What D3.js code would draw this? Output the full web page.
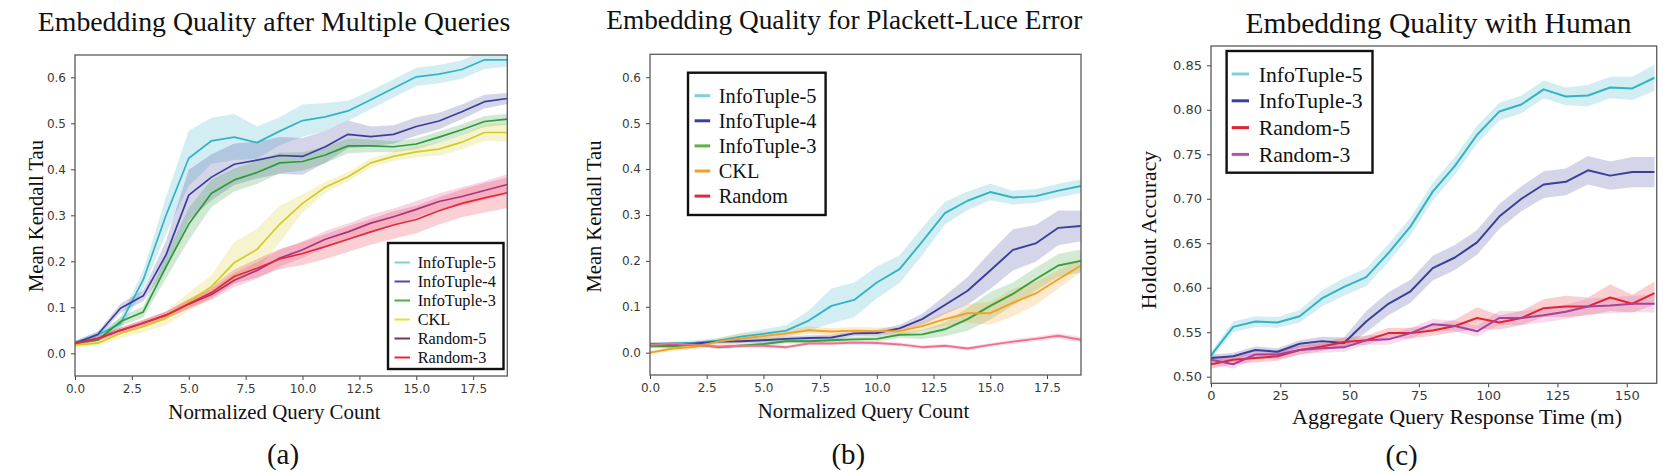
<!DOCTYPE html>
<html><head><meta charset="utf-8">
<script src="https://cdn.jsdelivr.net/npm/d3@7"></script>
<style>body{margin:0;background:#fff} svg{display:block}</style>
</head><body>
<svg id="chart" width="1676" height="473"></svg>
<script>
// ---------- data ----------
const queryCount = [0,1,2,3,4,5,6,7,8,9,10,11,12,13,14,15,16,17,18,19];
const responseTime = [0,8,16,24,32,40,48,56,64,72,80,88,96,104,112,120,128,136,144,152,160];

// panel (a) Embedding Quality after Multiple Queries
const aInfo5 = [0.023,0.040,0.065,0.160,0.300,0.424,0.462,0.470,0.458,0.483,0.506,0.514,0.527,0.551,0.576,0.601,0.607,0.617,0.638,0.638];
const aInfo5Err = [0.005,0.008,0.012,0.02,0.04,0.06,0.05,0.05,0.035,0.03,0.035,0.03,0.022,0.02,0.02,0.02,0.02,0.02,0.02,0.015];
const aInfo4 = [0.022,0.041,0.098,0.125,0.214,0.344,0.383,0.411,0.420,0.430,0.428,0.449,0.476,0.471,0.476,0.493,0.505,0.525,0.547,0.554];
const aInfo4Err = [0.004,0.006,0.01,0.012,0.03,0.055,0.05,0.045,0.04,0.04,0.04,0.035,0.03,0.022,0.02,0.02,0.018,0.016,0.015,0.012];
const aInfo3 = [0.022,0.029,0.069,0.090,0.188,0.281,0.348,0.377,0.393,0.414,0.417,0.431,0.451,0.451,0.449,0.455,0.470,0.486,0.504,0.509];
const aInfo3Err = [0.004,0.006,0.01,0.012,0.025,0.035,0.03,0.025,0.025,0.022,0.02,0.018,0.016,0.014,0.012,0.012,0.012,0.012,0.012,0.012];
const aCkl = [0.018,0.022,0.043,0.058,0.076,0.112,0.145,0.197,0.226,0.281,0.326,0.361,0.384,0.414,0.428,0.438,0.444,0.459,0.480,0.480];
const aCklErr = [0.005,0.006,0.01,0.012,0.015,0.02,0.025,0.045,0.045,0.04,0.02,0.012,0.01,0.01,0.01,0.012,0.014,0.016,0.018,0.02];
const aRand5 = [0.022,0.032,0.050,0.066,0.083,0.107,0.128,0.159,0.180,0.207,0.225,0.248,0.264,0.283,0.297,0.313,0.330,0.341,0.354,0.367];
const aRand5Err = [0.004,0.005,0.006,0.007,0.008,0.01,0.012,0.015,0.018,0.018,0.018,0.018,0.018,0.018,0.018,0.018,0.018,0.02,0.02,0.022];
const aRand3 = [0.022,0.032,0.050,0.066,0.083,0.108,0.132,0.167,0.185,0.205,0.217,0.232,0.248,0.264,0.279,0.291,0.310,0.326,0.338,0.349];
const aRand3Err = [0.004,0.005,0.006,0.007,0.008,0.01,0.012,0.015,0.02,0.022,0.025,0.027,0.028,0.028,0.03,0.03,0.03,0.03,0.032,0.033];

// panel (b) Embedding Quality for Plackett-Luce Error
const bInfo5 = [0.019,0.020,0.022,0.026,0.035,0.041,0.048,0.070,0.102,0.115,0.153,0.182,0.242,0.304,0.331,0.350,0.338,0.341,0.353,0.363];
const bInfo5Err = [0.004,0.004,0.005,0.006,0.008,0.01,0.012,0.022,0.038,0.038,0.035,0.03,0.03,0.025,0.02,0.018,0.015,0.015,0.015,0.015];
const bInfo4 = [0.018,0.017,0.020,0.024,0.025,0.027,0.030,0.032,0.033,0.042,0.043,0.053,0.073,0.104,0.135,0.179,0.224,0.238,0.272,0.276];
const bInfo4Err = [0.004,0.004,0.004,0.004,0.005,0.005,0.005,0.006,0.006,0.006,0.007,0.008,0.012,0.02,0.03,0.04,0.045,0.04,0.038,0.033];
const bInfo3 = [0.014,0.014,0.018,0.012,0.015,0.019,0.025,0.025,0.027,0.029,0.030,0.039,0.040,0.051,0.073,0.102,0.128,0.160,0.190,0.200];
const bInfo3Err = [0.004,0.004,0.004,0.004,0.004,0.005,0.005,0.005,0.005,0.005,0.006,0.007,0.01,0.015,0.025,0.03,0.025,0.025,0.025,0.025];
const bCkl = [0.000,0.009,0.013,0.024,0.031,0.036,0.042,0.049,0.046,0.048,0.047,0.047,0.058,0.073,0.086,0.086,0.109,0.129,0.160,0.190];
const bCklErr = [0.004,0.005,0.006,0.008,0.01,0.01,0.008,0.008,0.008,0.008,0.008,0.008,0.01,0.015,0.02,0.025,0.03,0.025,0.02,0.015];
const bRand = [0.017,0.020,0.017,0.013,0.015,0.015,0.012,0.020,0.020,0.022,0.021,0.018,0.012,0.015,0.009,0.017,0.024,0.030,0.037,0.028];
const bRandErr = [0.004,0.004,0.004,0.004,0.004,0.004,0.004,0.004,0.004,0.004,0.004,0.004,0.004,0.004,0.004,0.004,0.005,0.005,0.006,0.006];

// panel (c) Embedding Quality with Human
const cInfo5 = [0.524,0.556,0.562,0.561,0.568,0.588,0.601,0.612,0.639,0.669,0.708,0.737,0.772,0.798,0.806,0.823,0.815,0.816,0.825,0.824,0.836];
const cInfo5Err = [0.004,0.006,0.006,0.006,0.007,0.009,0.01,0.01,0.01,0.01,0.01,0.01,0.01,0.01,0.01,0.01,0.01,0.012,0.012,0.013,0.015];
const cInfo3 = [0.521,0.523,0.530,0.528,0.537,0.540,0.538,0.562,0.582,0.596,0.622,0.634,0.651,0.680,0.700,0.716,0.719,0.732,0.726,0.730,0.730];
const cInfo3Err = [0.004,0.004,0.004,0.004,0.004,0.005,0.006,0.012,0.013,0.013,0.014,0.014,0.014,0.014,0.014,0.015,0.015,0.016,0.016,0.017,0.017];
const cRand5 = [0.514,0.519,0.521,0.523,0.530,0.534,0.539,0.541,0.549,0.549,0.552,0.557,0.566,0.561,0.566,0.577,0.579,0.579,0.589,0.582,0.594];
const cRand5Err = [0.005,0.005,0.005,0.005,0.005,0.005,0.005,0.005,0.006,0.006,0.006,0.007,0.012,0.008,0.008,0.01,0.012,0.01,0.015,0.01,0.013];
const cRand3 = [0.519,0.514,0.525,0.525,0.530,0.532,0.533,0.541,0.542,0.549,0.559,0.557,0.551,0.566,0.566,0.569,0.573,0.579,0.580,0.582,0.582];
const cRand3Err = [0.005,0.005,0.005,0.005,0.005,0.005,0.005,0.005,0.006,0.006,0.006,0.006,0.006,0.008,0.008,0.008,0.008,0.009,0.009,0.009,0.01];

// tick labels
const kendallTicks = [0,0.1,0.2,0.3,0.4,0.5,0.6];
const countTicks = [0,2.5,5,7.5,10,12.5,15,17.5];
const accuracyTicks = [0.50,0.55,0.60,0.65,0.70,0.75,0.80,0.85];
const timeTicks = [0,25,50,75,100,125,150];

// ---------- drawing ----------
const svg = d3.select("#chart");
const SERIF = "'Liberation Serif','Times New Roman',serif";
const SANS = "'DejaVu Sans',sans-serif";

function drawPanel(p) {
  const g = svg.append("g");
  const x = d3.scaleLinear().domain(p.xDomain).range([p.left, p.right]);
  const y = d3.scaleLinear().domain(p.yDomain).range([p.bottom, p.top]);

  const clipId = "clip" + p.id;
  svg.append("clipPath").attr("id", clipId).append("rect")
    .attr("x", p.left).attr("y", p.top).attr("width", p.right - p.left).attr("height", p.bottom - p.top);
  const plot = g.append("g").attr("clip-path", `url(#${clipId})`);

  p.series.forEach(s => {
    const pts = p.xs.map((xv, i) => ({x: xv, v: s.values[i], e: s.err[i]}));
    plot.append("path").datum(pts)
      .attr("fill", s.band || s.color).attr("fill-opacity", p.bandOpacity)
      .attr("d", d3.area().x(d => x(d.x)).y0(d => y(d.v - d.e)).y1(d => y(d.v + d.e)));
  });
  p.series.forEach(s => {
    const pts = p.xs.map((xv, i) => ({x: xv, v: s.values[i]}));
    plot.append("path").datum(pts)
      .attr("fill", "none").attr("stroke", s.color).attr("stroke-width", p.lineWidth)
      .attr("stroke-linejoin", "round")
      .attr("d", d3.line().x(d => x(d.x)).y(d => y(d.v)));
  });

  // axes
  const xa = g.append("g").attr("transform", `translate(0,${p.bottom})`)
    .call(d3.axisBottom(x).tickValues(p.xTicks).tickFormat(d3.format(p.xFmt)).tickSize(4).tickPadding(p.xPad));
  const ya = g.append("g").attr("transform", `translate(${p.left},0)`)
    .call(d3.axisLeft(y).tickValues(p.yTicks).tickFormat(d3.format(p.yFmt)).tickSize(4).tickPadding(p.yPad));
  [xa, ya].forEach(a => {
    a.select(".domain").remove();
    a.selectAll(".tick line").attr("stroke", "#444").attr("stroke-width", 1);
    a.selectAll(".tick text").attr("fill", "#3a3a3a").attr("font-family", SANS).attr("font-size", p.tickSize);
  });

  // frame
  g.append("rect").attr("x", p.left).attr("y", p.top)
    .attr("width", p.right - p.left).attr("height", p.bottom - p.top)
    .attr("fill", "none").attr("stroke", "#5a5a5a").attr("stroke-width", 1.3);

  // texts
  g.append("text").attr("x", p.titleX).attr("y", p.titleY).attr("text-anchor", "middle")
    .attr("font-family", SERIF).attr("font-size", p.titleSize).attr("fill", "#111").text(p.title);
  g.append("text").attr("x", p.xLabelX).attr("y", p.xLabelY).attr("text-anchor", "middle")
    .attr("font-family", SERIF).attr("font-size", p.xLabelSize).attr("fill", "#111").text(p.xLabel);
  g.append("text").attr("transform", `translate(${p.yLabelX},${p.yLabelY}) rotate(-90)`)
    .attr("text-anchor", "middle").attr("dy", "0.35em")
    .attr("font-family", SERIF).attr("font-size", p.yLabelSize).attr("fill", "#111").text(p.yLabel);
  g.append("text").attr("x", p.tagX).attr("y", p.tagY).attr("text-anchor", "middle")
    .attr("font-family", SERIF).attr("font-size", 29).attr("fill", "#111").text(p.tag);

  // legend
  const L = p.legend;
  const lg = g.append("g");
  lg.append("rect").attr("x", L.x).attr("y", L.y).attr("width", L.w).attr("height", L.h)
    .attr("fill", "#fff").attr("stroke", "#111").attr("stroke-width", 2.4);
  p.series.forEach((s, i) => {
    const cy = L.firstRow + i * L.rowGap;
    lg.append("line").attr("x1", L.hx0).attr("x2", L.hx1).attr("y1", cy).attr("y2", cy)
      .attr("stroke", s.legendColor || s.color).attr("stroke-width", L.handleWidth);
    lg.append("text").attr("x", L.tx).attr("y", cy).attr("dy", "0.35em")
      .attr("font-family", SERIF).attr("font-size", L.fontSize).attr("fill", "#111").text(s.name);
  });
}

drawPanel({
  id: "a", xs: queryCount, left: 75, right: 507.3, top: 55, bottom: 376,
  xDomain: [0, 19], yDomain: [-0.0493, 0.6485],
  xTicks: countTicks, yTicks: kendallTicks, xFmt: ".1f", yFmt: ".1f", tickSize: 12, xPad: 4, yPad: 5,
  lineWidth: 1.7, bandOpacity: 0.22,
  series: [
    {name: "InfoTuple-5", color: "#33b3c3", values: aInfo5, err: aInfo5Err, legendColor: "#7fd0dc"},
    {name: "InfoTuple-4", color: "#3b3f9a", values: aInfo4, err: aInfo4Err, legendColor: "#4a4fa0"},
    {name: "InfoTuple-3", color: "#2f9a3a", values: aInfo3, err: aInfo3Err, legendColor: "#55aa40"},
    {name: "CKL", color: "#d4cc22", values: aCkl, err: aCklErr, legendColor: "#e8e030"},
    {name: "Random-5", color: "#a8357c", band: "#e0408e", values: aRand5, err: aRand5Err, legendColor: "#7a3060"},
    {name: "Random-3", color: "#e6283a", values: aRand3, err: aRand3Err, legendColor: "#e8283a"}
  ],
  title: "Embedding Quality after Multiple Queries", titleX: 274, titleY: 31, titleSize: 27.8,
  xLabel: "Normalized Query Count", xLabelX: 274.5, xLabelY: 419, xLabelSize: 20.9,
  yLabel: "Mean Kendall Tau", yLabelX: 35.7, yLabelY: 216, yLabelSize: 20.5,
  tag: "(a)", tagX: 283, tagY: 464,
  legend: {x: 388, y: 243, w: 115.5, h: 126, firstRow: 262.5, rowGap: 19, hx0: 394.5, hx1: 410, tx: 417.7, fontSize: 16.3, handleWidth: 2}
});

drawPanel({
  id: "b", xs: queryCount, left: 650, right: 1081, top: 54.3, bottom: 375,
  xDomain: [0, 19], yDomain: [-0.0486, 0.650],
  xTicks: countTicks, yTicks: kendallTicks, xFmt: ".1f", yFmt: ".1f", tickSize: 12, xPad: 4, yPad: 5,
  lineWidth: 1.9, bandOpacity: 0.22,
  series: [
    {name: "InfoTuple-5", color: "#33b3c3", values: bInfo5, err: bInfo5Err, legendColor: "#7fd0dc"},
    {name: "InfoTuple-4", color: "#3b3f9a", values: bInfo4, err: bInfo4Err},
    {name: "InfoTuple-3", color: "#36a03a", values: bInfo3, err: bInfo3Err, legendColor: "#5fb045"},
    {name: "CKL", color: "#f4a020", values: bCkl, err: bCklErr},
    {name: "Random", color: "#ef7090", values: bRand, err: bRandErr, legendColor: "#e02a3a"}
  ],
  title: "Embedding Quality for Plackett-Luce Error", titleX: 844.3, titleY: 29, titleSize: 27.3,
  xLabel: "Normalized Query Count", xLabelX: 863.5, xLabelY: 417.5, xLabelSize: 20.8,
  yLabel: "Mean Kendall Tau", yLabelX: 593.6, yLabelY: 216.5, yLabelSize: 20.5,
  tag: "(b)", tagX: 848.3, tagY: 464,
  legend: {x: 688, y: 72.7, w: 137.6, h: 142.3, firstRow: 95.7, rowGap: 25.1, hx0: 694.6, hx1: 710.2, tx: 718.7, fontSize: 20.4, handleWidth: 3}
});

drawPanel({
  id: "c", xs: responseTime, left: 1211, right: 1656.7, top: 46, bottom: 383.3,
  xDomain: [0, 160.8], yDomain: [0.4926, 0.8717],
  xTicks: timeTicks, yTicks: accuracyTicks, xFmt: "d", yFmt: ".2f", tickSize: 13, xPad: 3.5, yPad: 5,
  lineWidth: 2, bandOpacity: 0.22,
  series: [
    {name: "InfoTuple-5", color: "#33b3c3", values: cInfo5, err: cInfo5Err, legendColor: "#7fd0dc"},
    {name: "InfoTuple-3", color: "#3b3f9a", values: cInfo3, err: cInfo3Err},
    {name: "Random-5", color: "#e42431", values: cRand5, err: cRand5Err},
    {name: "Random-3", color: "#a4439c", band: "#d060b8", values: cRand3, err: cRand3Err, legendColor: "#b854a8"}
  ],
  title: "Embedding Quality with Human", titleX: 1438.5, titleY: 33, titleSize: 29.5,
  xLabel: "Aggregate Query Response Time (m)", xLabelX: 1457, xLabelY: 424, xLabelSize: 22,
  yLabel: "Holdout Accuracy", yLabelX: 1147.9, yLabelY: 230, yLabelSize: 21.7,
  tag: "(c)", tagX: 1401.7, tagY: 465,
  legend: {x: 1226.6, y: 51, w: 145.9, h: 121.7, firstRow: 74, rowGap: 26.8, hx0: 1231.7, hx1: 1249, tx: 1258.7, fontSize: 21.7, handleWidth: 3}
});
</script>
</body></html>
